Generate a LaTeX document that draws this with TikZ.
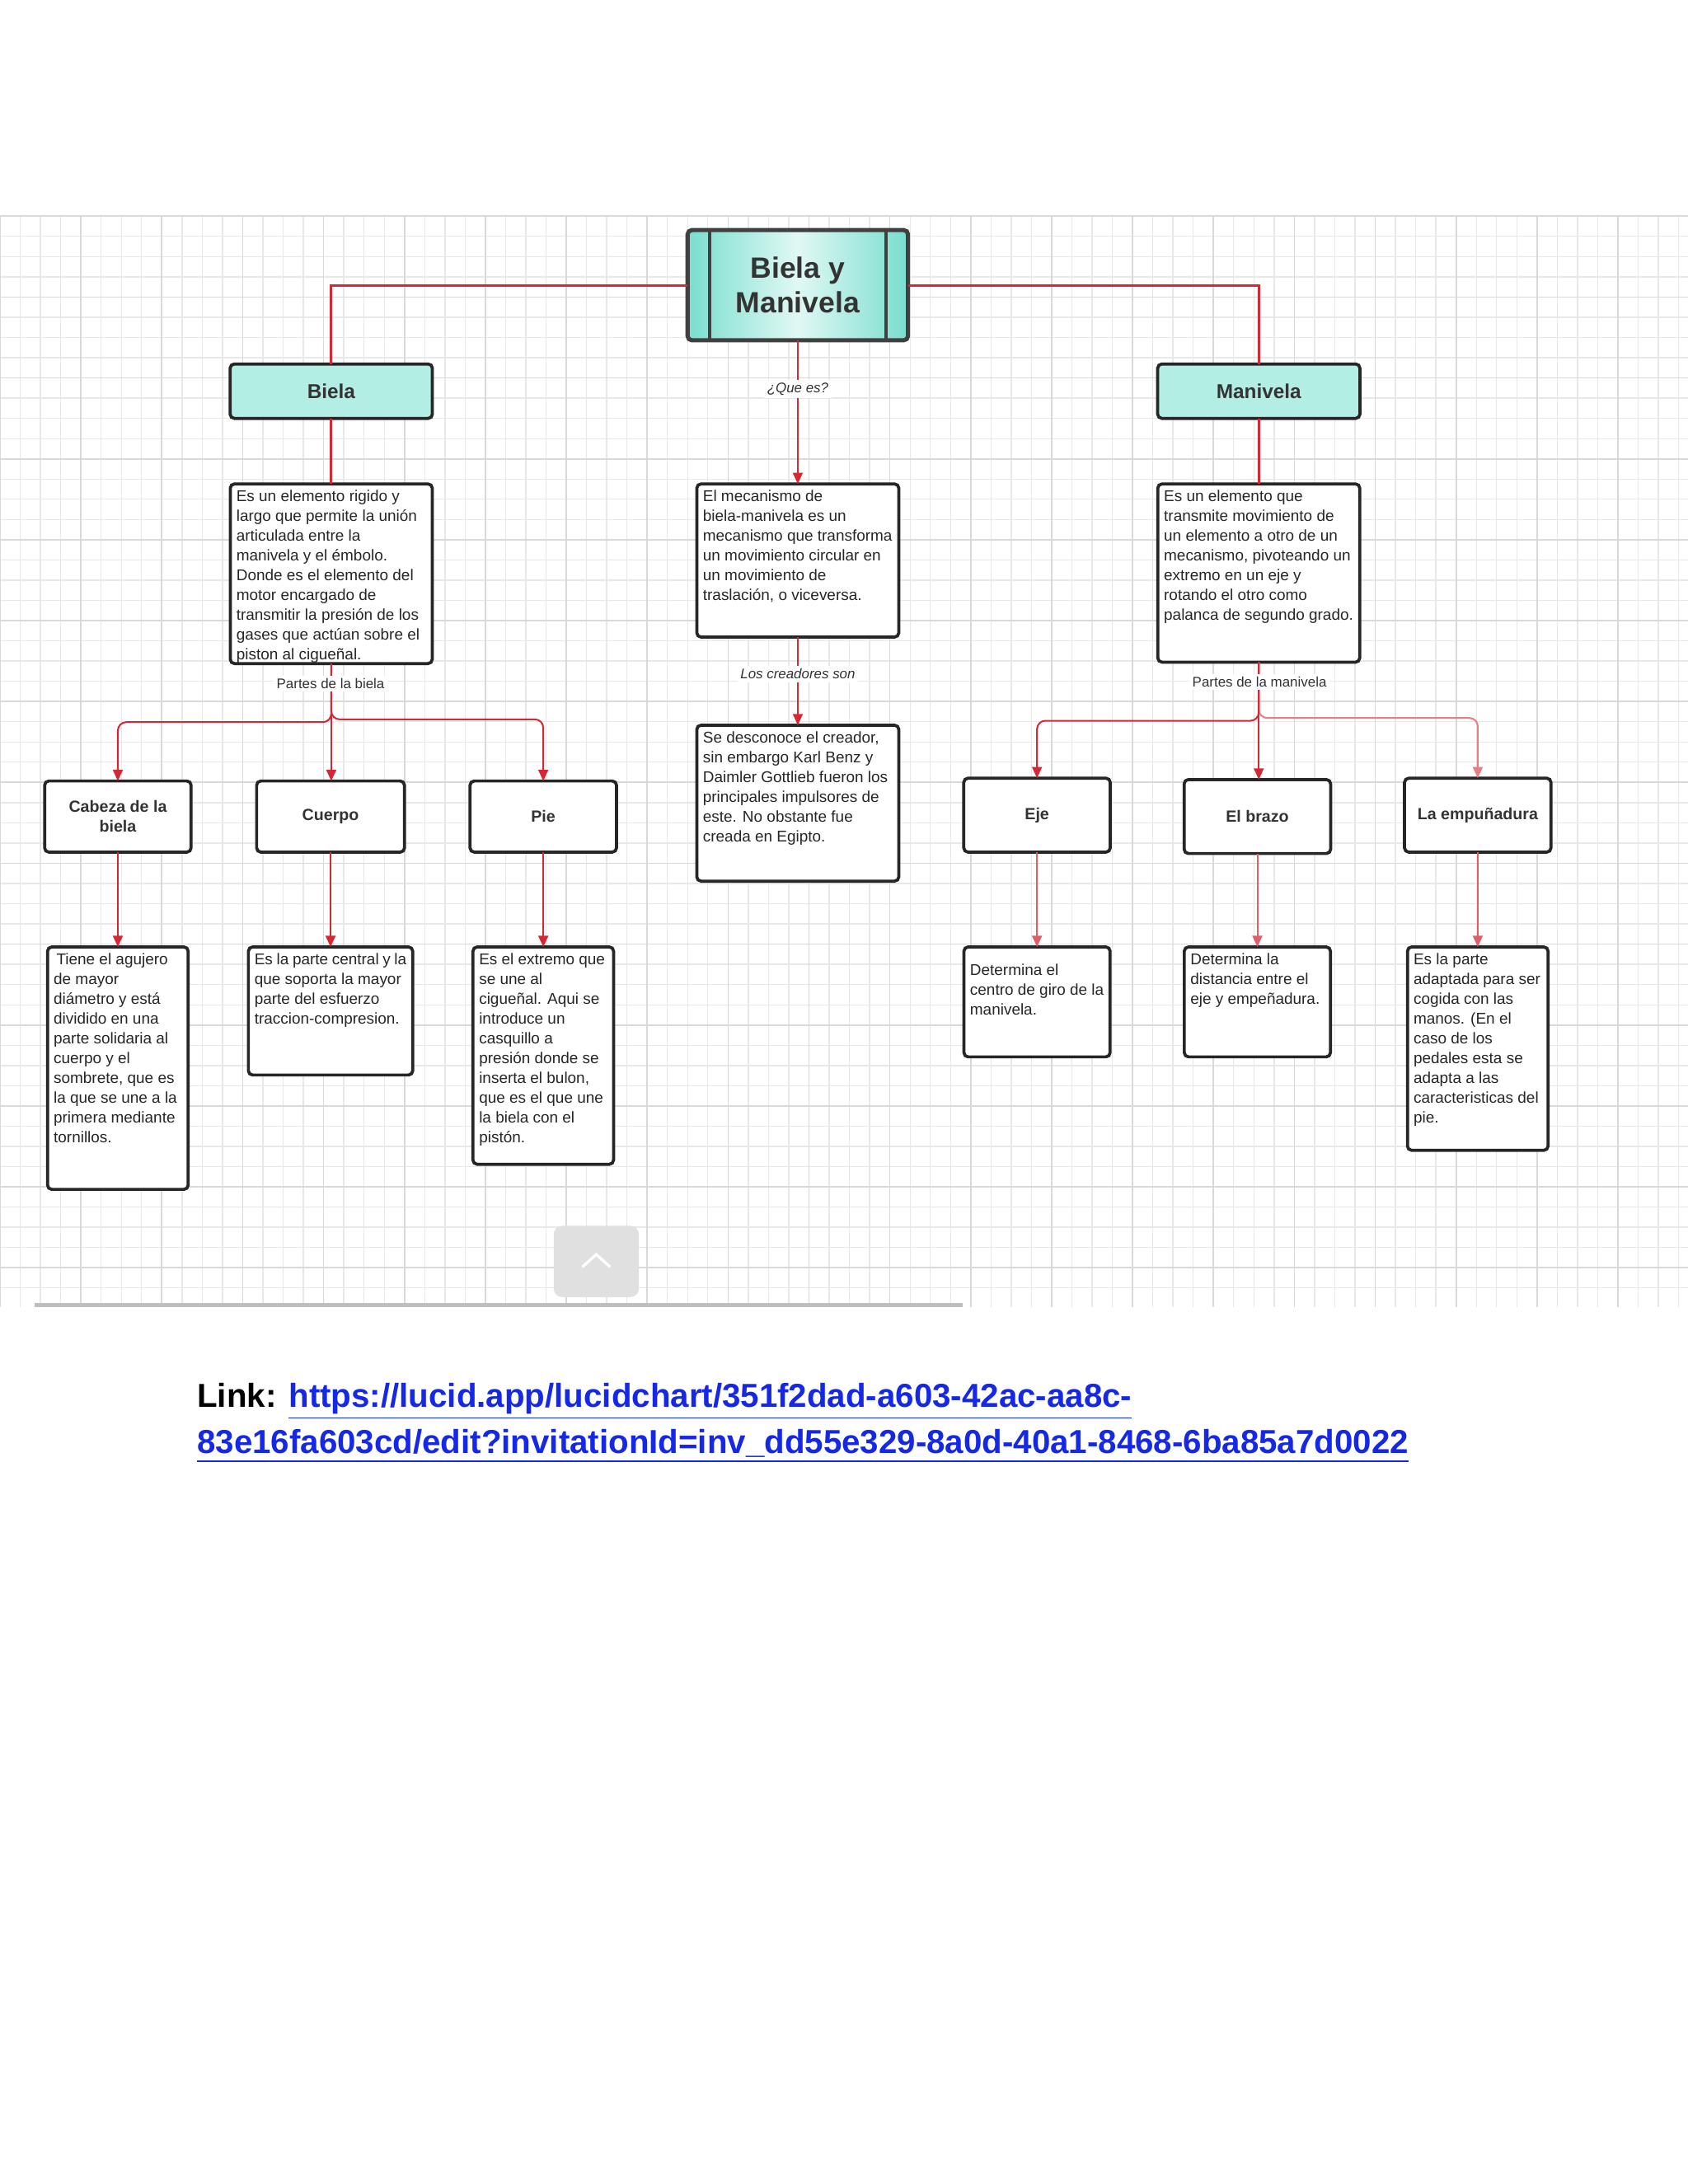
\documentclass[tikz,border=0pt]{standalone}
\usepackage{fontspec}
\setmainfont{Liberation Sans}
\usetikzlibrary{arrows.meta}
\definecolor{lred}{RGB}{214,40,52}
\definecolor{teal1}{RGB}{178,238,228}
\definecolor{teal2}{RGB}{120,222,206}
\definecolor{linkblue}{RGB}{20,40,230}
\newcommand{\dtext}[3]{\begin{minipage}[t][#2][t]{#1}\raggedright #3\end{minipage}}
\tikzset{
  base/.style={draw=black!85, line width=1.1pt, rounded corners=1.5pt, fill=white, outer sep=0pt},
  head/.style={base, fill=teal1, font=\fontsize{7.2}{8}\selectfont\bfseries, text=black!80, minimum width=72.5pt, minimum height=19.5pt},
  part/.style={base, font=\fontsize{5.8}{7}\selectfont\bfseries, text=black!80, align=center, inner sep=0pt},
  desc/.style={base, font=\fontsize{5.6}{7.1}\selectfont, text=black!85, inner sep=2.2pt, anchor=north},
  conn/.style={lred, line width=0.9pt},
  arr/.style={lred, line width=0.6pt, -{Triangle[length=4pt,width=3.5pt]}},
  lab/.style={fill=white, inner sep=1pt, font=\fontsize{5}{6}\selectfont\itshape, text=black!80},
  labn/.style={fill=white, inner sep=1pt, font=\fontsize{5}{6}\selectfont, text=black!80}
}
\begin{document}
\begin{tikzpicture}[x=0.5pt,y=-0.5pt]
\useasboundingbox (0,0) rectangle (1210,1566);
\fill[white] (0,0) rectangle (1210,1566);
% grid
\foreach \i in {0,...,83} \draw[black!9, line width=0.4pt] (\i*14.5,155) -- (\i*14.5,937);
\foreach \i in {0,...,53} \draw[black!9, line width=0.4pt] (0,155+\i*14.5) -- (1210,155+\i*14.5);
\foreach \i in {0,...,20} \draw[black!15, line width=0.5pt] (\i*58,155) -- (\i*58,937);
\foreach \i in {0,...,13} \draw[black!15, line width=0.5pt] (0,155+\i*58) -- (1210,155+\i*58);
% title
\node[base, line width=1.5pt, draw=black!75, left color=teal2, right color=teal2, middle color=white!60!teal1, minimum width=79pt, minimum height=39.5pt, align=center, font=\fontsize{10.5}{12.5}\selectfont\bfseries, text=black!80] (title) at (572,204.5) {Biela y\\Manivela};
\draw[black!75, line width=1.2pt] (509,165) -- (509,244) (635,165) -- (635,244);
\node[head] (biela) at (237.5,280.5) {Biela};
\node[head] (manivela) at (902.5,280.5) {Manivela};
\draw[conn] (title.west) -| (biela.north);
\draw[conn] (title.east) -| (manivela.north);
% descriptions level 2
\node[desc] (bdesc) at (237.5,347) {\dtext{68pt}{60pt}{Es un elemento rigido y largo que permite la unión articulada entre la manivela y el émbolo. Donde es el elemento del motor encargado de transmitir la presión de los gases que actúan sobre el piston al cigueñal.}};
\node[desc] (qdesc) at (572,347) {\dtext{68pt}{50.5pt}{El mecanismo de\\ biela-manivela es un mecanismo que transforma un movimiento circular en un movimiento de traslación, o viceversa.}};
\node[desc] (mdesc) at (902.5,347) {\dtext{68pt}{59.5pt}{Es un elemento que transmite movimiento de un elemento a otro de un mecanismo, pivoteando un extremo en un eje y rotando el otro como palanca de segundo grado.}};
\node[desc] (cdesc) at (572,520) {\dtext{68pt}{51.5pt}{Se desconoce el creador, sin embargo Karl Benz y Daimler Gottlieb fueron los principales impulsores de este. No obstante fue creada en Egipto.}};
\draw[conn] (biela.south) -- (bdesc.north);
\draw[conn] (manivela.south) -- (mdesc.north);
\draw[arr] (title.south) -- node[lab, pos=0.34]{¿Que es?} (qdesc.north);
\draw[arr] (qdesc.south) -- node[lab, pos=0.42]{Los creadores son} (cdesc.north);
% parts
\node[part, minimum width=52.5pt, minimum height=25.5pt] (cabeza) at (84.5,585.5) {Cabeza de la\\biela};
\node[part, minimum width=53pt, minimum height=25.5pt] (cuerpo) at (237,585.5) {Cuerpo};
\node[part, minimum width=52.5pt, minimum height=25.5pt] (pie) at (389.5,585.5) {Pie};
\node[part, minimum width=52.5pt, minimum height=26.5pt] (eje) at (743.5,584.5) {Eje};
\node[part, minimum width=52.5pt, minimum height=26.5pt] (brazo) at (901.5,585.5) {El brazo};
\node[part, minimum width=52.5pt, minimum height=26.5pt] (empu) at (1059.5,584.5) {La empuñadura};
\draw[arr, rounded corners=3pt] (bdesc.south) -- ++(0,42) -| (cabeza.north);
\draw[arr, rounded corners=3pt] (bdesc.south) -- ++(0,40) -| (pie.north);
\draw[arr] (bdesc.south) -- (bdesc.south |- cuerpo.north);
\node[labn] at (237,490) {Partes de la biela};
\draw[arr, rounded corners=3pt] (mdesc.south) -- ++(0,42) -| (eje.north);
\draw[arr, rounded corners=3pt, lred!60] (mdesc.south) -- ++(0,40) -| (empu.north);
\draw[arr] (mdesc.south) -- (mdesc.south |- brazo.north);
\node[labn] at (903,489) {Partes de la manivela};
% descriptions level 4
\node[desc] (cabd) at (84.5,679) {\dtext{46pt}{82.5pt}{\hspace*{1pt}Tiene el agujero de mayor diámetro y está dividido en una parte solidaria al cuerpo y el sombrete, que es la que se une a la primera mediante tornillos.}};
\node[desc] (cued) at (237,679) {\dtext{54.5pt}{41.5pt}{Es la parte central y la que soporta la mayor parte del esfuerzo traccion-compresion.}};
\node[desc] (pied) at (389.5,679) {\dtext{46pt}{73.5pt}{Es el extremo que se une al cigueñal. Aqui se introduce un casquillo a presión donde se inserta el bulon, que es el que une la biela con el pistón.}};
\node[desc] (ejed) at (743.5,679) {\dtext{48pt}{35pt}{\vspace*{4pt}Determina el centro de giro de la manivela.}};
\node[desc] (brad) at (901.5,679) {\dtext{48pt}{35pt}{Determina la distancia entre el eje y empeñadura.}};
\node[desc] (empd) at (1059.5,679) {\dtext{46pt}{68.5pt}{Es la parte adaptada para ser cogida con las manos. (En el caso de los pedales esta se adapta a las caracteristicas del pie.}};
\draw[arr] (cabeza.south) -- (cabd.north);
\draw[arr] (cuerpo.south) -- (cued.north);
\draw[arr] (pie.south) -- (pied.north);
\draw[arr, lred!75] (eje.south) -- (ejed.north);
\draw[arr, lred!75] (brazo.south) -- (brad.north);
\draw[arr, lred!75] (empu.south) -- (empd.north);
% scroll widget
\node[fill=black!12, rounded corners=3pt, minimum width=30.5pt, minimum height=25.5pt, inner sep=0pt] (scroll) at (427.5,904.5) {};
\draw[white, line width=1pt] ([xshift=-5pt,yshift=-2pt]scroll.center) -- ([yshift=2.5pt]scroll.center) -- ([xshift=5pt,yshift=-2pt]scroll.center);
\draw[black!25, line width=1.5pt] (25,936) -- (690,936);
% link
\node[anchor=base west, inner sep=0pt, font=\fontsize{11.9}{13}\selectfont\bfseries, align=left] (link) at (141,1009) {Link: \textcolor{linkblue}{\underline{https://lucid.app/lucidchart/351f2dad-a603-42ac-aa8c-}}};
\node[anchor=base west, inner sep=0pt, font=\fontsize{11.9}{13}\selectfont\bfseries, text=linkblue] (link2) at (141,1042) {\underline{83e16fa603cd/edit?invitationId=inv\_dd55e329-8a0d-40a1-8468-6ba85a7d0022}};
\end{tikzpicture}
\end{document}
